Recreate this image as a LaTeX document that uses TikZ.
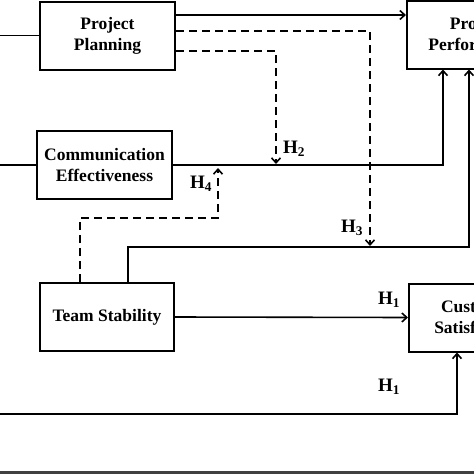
\documentclass[tikz,border=0pt]{standalone}
\usepackage{fontspec}
\setmainfont{Liberation Serif}
\usetikzlibrary{arrows.meta}
\begin{document}
\begin{tikzpicture}[x=1pt,y=-1pt,
  txt/.style={font=\fontsize{17.5}{21}\selectfont\bfseries},
  box/.style={draw, line width=2pt, minimum height=68pt, align=center, txt, inner sep=0pt},
  conn/.style={line width=1.6pt},
  arr/.style={conn, -{Straight Barb[length=5pt,width=9pt]}},
  dsh/.style={dash pattern=on 8pt off 5pt},
  hlab/.style={font=\fontsize{19}{21}\selectfont\bfseries, inner sep=0pt}]
\useasboundingbox (0,0) rectangle (474,474);
\clip (0,0) rectangle (474,474);
\fill[white] (0,0) rectangle (474,474);

% boxes
\node[box, minimum width=135pt] (pp) at (107.5,35.5) {Project\\Planning};
\node[box, minimum width=140pt] (perf) at (477,34.5) {Project\\Performance};
\node[box, minimum width=135pt] (ce) at (104.5,165) {Communication\\Effectiveness};
\node[box, minimum width=134pt] (ts) at (107,317) {Team Stability};
\node[box, minimum width=138pt] (cs) at (478,317.5) {Customer\\Satisfaction};

% helper coordinates
\coordinate (l1) at (0,35.5);
\coordinate (l2) at (0,165);
\coordinate (l3) at (0,414);
\coordinate (y15) at (0,15);
\coordinate (y31) at (0,31);
\coordinate (y51) at (0,51);
\coordinate (x443) at (443,0);
\coordinate (x469) at (469,0);
\coordinate (x457) at (457,0);
\coordinate (x128) at (128,0);
\coordinate (x80) at (80,0);
\coordinate (h2) at (276,164);
\coordinate (h3) at (370,246);
\coordinate (h4a) at (218,218);
\coordinate (h4b) at (218,168);
\coordinate (tsl) at (469,247);
\coordinate (bl) at (0,472.5);
\coordinate (br) at (474,472.5);

% left incoming lines
\draw[conn] (l1) -- (pp.west);
\draw[conn] (l2) -- (ce.west);

% PP -> Performance
\draw[arr] (pp.east |- y15) -- (perf.west |- y15);
% dashed moderators
\draw[conn, dsh, -{Straight Barb[length=5pt,width=9pt]}] (pp.east |- y31) -| (h3);
\draw[conn, dsh, -{Straight Barb[length=5pt,width=9pt]}] (pp.east |- y51) -| (h2);
% CE -> Performance
\draw[arr] (ce.east) -| (perf.south -| x443);
% TS -> Performance
\draw[arr] (ts.north -| x128) |- (tsl) -- (perf.south -| x469);
% TS dashed -> CE line
\draw[conn, dsh, -{Straight Barb[length=5pt,width=9pt]}] (ts.north -| x80) |- (h4a) -- (h4b);
% TS -> CS
\draw[arr] (ts.east) -- (cs.west);
% bottom line -> CS
\draw[arr] (l3) -| (cs.south -| x457);
% bottom border
\draw[line width=3pt, black!75] (bl) -- (br);

% labels
\node[hlab] (H2) at (294,149) {H\textsubscript{2}};
\node[hlab] (H4) at (201,184) {H\textsubscript{4}};
\node[hlab] (H3) at (352,228) {H\textsubscript{3}};
\node[hlab] (H1a) at (389,300) {H\textsubscript{1}};
\node[hlab] (H1b) at (389,387) {H\textsubscript{1}};
\end{tikzpicture}
\end{document}
